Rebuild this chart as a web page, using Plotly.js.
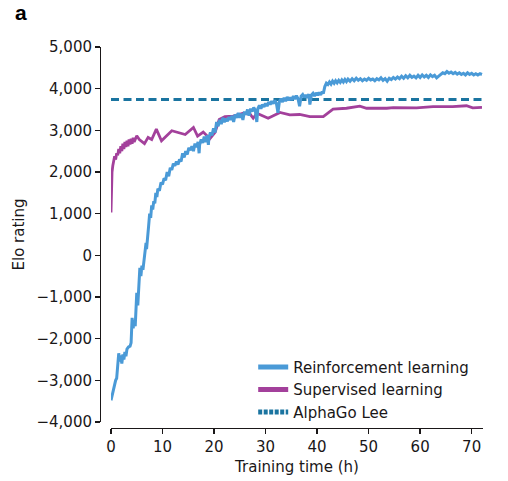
<!DOCTYPE html>
<html>
<head>
<meta charset="utf-8">
<script src="https://cdn.plot.ly/plotly-3.0.1.min.js"></script>
<style>html,body{margin:0;padding:0;background:#fff;}#chart{width:508px;height:481px;}</style>
</head>
<body>
<div id="chart"></div>
<script>
// Reinforcement learning (hours, Elo)
const rlHours = [0,0.3,0.6,0.9,1.1,1.3,1.5,1.7,1.9,2.1,2.3,2.5,2.7,2.9,3.1,3.4,3.7,3.9,4.0,4.1,4.3,4.5,4.7,4.9,5.0,5.2,5.3,5.5,5.6,5.8,6.0,6.2,6.4,6.6,6.8,6.9,7.1,7.3,7.5,7.7,7.9,8.1,8.3,8.5,8.7,8.9,9.1,9.4,9.7,10.0,10.3,10.6,10.9,11.2,11.5,11.8,12.1,12.4,12.7,13.0,13.3,13.6,13.9,14.2,14.5,14.8,15.1,15.4,15.7,16.0,16.3,16.6,16.9,17.1,17.2,17.5,17.8,18.1,18.4,18.7,18.9,19.0,19.3,19.6,19.9,20.2,20.5,20.8,21.1,21.4,21.7,22.0,22.3,22.6,22.9,23.2,23.5,23.8,24.1,24.4,24.7,25.0,25.3,25.6,25.9,26.2,26.5,26.8,27.1,27.4,27.7,28.0,28.3,28.5,28.8,29.1,29.4,29.7,30.0,30.3,30.6,30.9,31.2,31.5,31.8,32.1,32.4,32.7,33.0,33.3,33.6,33.9,34.2,34.5,34.8,35.1,35.4,35.7,36.0,36.3,36.6,36.9,37.2,37.5,37.8,38.1,38.4,38.6,38.9,39.2,39.5,39.8,40.1,40.4,40.7,41.0,41.2,41.5,41.8,42.1,42.4,42.7,43.0,43.3,43.6,43.9,44.2,44.5,44.8,45.1,45.4,45.7,46.0,46.4,46.8,47.2,47.6,48.0,48.4,48.8,49.2,49.6,50.0,50.4,50.8,51.2,51.6,52.0,52.4,52.8,53.2,53.6,54.0,54.4,54.8,55.2,55.6,56.0,56.4,56.8,57.2,57.6,58.0,58.4,58.8,59.2,59.6,60.0,60.4,60.8,61.2,61.6,62.0,62.4,62.8,63.2,63.6,64.0,64.4,64.8,65.2,65.6,66.0,66.4,66.8,67.2,67.6,68.0,68.4,68.8,69.2,69.6,70.0,70.4,70.8,71.2,71.6,72.0];
const rlElo = [-3480,-3300,-3150,-3000,-2950,-2700,-2350,-2550,-2400,-2600,-2380,-2500,-2320,-2420,-2250,-2200,-2180,-2100,-1800,-1500,-1750,-1550,-1700,-1300,-900,-1200,-850,-600,-300,-500,-250,-350,-150,100,300,150,550,700,1000,900,1200,1100,1300,1250,1500,1400,1600,1550,1750,1700,1850,1800,2000,1900,2100,2050,2200,2150,2250,2180,2300,2250,2450,2350,2500,2420,2580,2520,2620,2500,2680,2600,2720,2450,2650,2780,2700,2850,2720,2880,2650,2820,2950,2880,3050,2950,3200,3100,3250,3150,3300,3200,3280,3220,3320,3250,3350,3200,3380,3300,3420,3300,3400,3250,3450,3380,3500,3350,3520,3450,3550,3480,3200,3520,3600,3520,3620,3560,3650,3580,3680,3620,3700,3640,3720,3650,3420,3700,3760,3680,3780,3700,3800,3720,3790,3730,3820,3750,3830,3760,3580,3820,3860,3790,3850,3780,3870,3620,3850,3890,3820,3900,3840,3910,3850,3930,3880,4050,4130,4100,4160,4110,4180,4130,4190,4140,4200,4150,4210,4160,4220,4170,4230,4180,4240,4190,4250,4200,4240,4190,4230,4200,4250,4210,4230,4190,4240,4210,4260,4200,4240,4180,4250,4220,4270,4230,4280,4240,4300,4250,4310,4260,4320,4270,4300,4260,4320,4270,4330,4280,4320,4270,4330,4290,4320,4260,4300,4340,4380,4360,4410,4370,4400,4360,4390,4350,4380,4340,4370,4330,4380,4340,4370,4330,4360,4330,4360,4340];

// Supervised learning (hours, Elo)
const slHours = [0,0.1,0.2,0.35,0.5,0.7,0.9,1.1,1.3,1.5,1.7,1.9,2.1,2.3,2.5,2.7,2.9,3.1,3.3,3.5,3.7,3.9,4.1,4.3,4.5,4.7,5.0,5.5,6.0,6.5,7.2,7.9,8.8,9.8,11.8,13.0,14.4,16.0,16.8,17.9,19.2,20.2,21.0,22.1,23.7,25.7,27.0,27.6,28.3,30.5,32.8,34.7,36.6,38.6,41.2,43.1,45.7,48.3,49.6,53.5,54.8,59.3,62.5,66.3,69.0,70.2,72.0];
const slElo = [1030,1700,2000,2150,2250,2380,2300,2450,2400,2550,2450,2620,2500,2680,2550,2720,2600,2750,2620,2780,2660,2800,2680,2820,2720,2800,2870,2780,2720,2680,2830,2780,3030,2750,2990,2950,2900,3070,2860,2960,2800,2950,3260,3330,3340,3410,3390,3290,3410,3290,3430,3370,3380,3330,3330,3510,3530,3580,3530,3530,3545,3540,3570,3570,3590,3540,3550];

// AlphaGo Lee reference level
const alphaGoLeeElo = 3739;
const timeSpan = [0, 72.2];

const seriesNames = ['Reinforcement learning', 'Supervised learning', 'AlphaGo Lee'];
const yTicks = [-4000,-3000,-2000,-1000,0,1000,2000,3000,4000,5000];
const xTicks = [0,10,20,30,40,50,60,70];

const cRL = '#4a9ad7', cSL = '#a3409b', cAG = '#1a74a0';
const FONT = 'DejaVu Sans, sans-serif';
const INK = '#1a1718';

const traces = [
  {x: timeSpan, y: timeSpan.map(() => alphaGoLeeElo), mode: 'lines', showlegend: false,
   line: {color: cAG, width: 3, dash: '8px,4.5px'}, hoverinfo: 'skip'},
  {x: slHours, y: slElo, mode: 'lines', showlegend: false, line: {color: cSL, width: 2.8}},
  {x: rlHours, y: rlElo, mode: 'lines', showlegend: false, line: {color: cRL, width: 3}},
  // legend entries
  {x: [null], y: [null], mode: 'lines', name: seriesNames[0], line: {color: cRL, width: 5}},
  {x: [null], y: [null], mode: 'lines', name: seriesNames[1], line: {color: cSL, width: 5}},
  {x: [null], y: [null], mode: 'lines', name: seriesNames[2], line: {color: cAG, width: 5, dash: '4px,1.5px'}}
];

const layout = {
  width: 508, height: 481,
  margin: {l: 100, r: 25, t: 47, b: 53},
  paper_bgcolor: '#fff', plot_bgcolor: '#fff',
  font: {family: FONT, size: 15, color: INK},
  separators: '.,',
  showlegend: true,
  xaxis: {
    domain: [11/383, 1], anchor: 'free', position: 0,
    range: timeSpan, tickvals: xTicks, ticktext: xTicks.map(String),
    showgrid: false, zeroline: false, showline: true, linecolor: INK, linewidth: 1.3,
    ticks: 'outside', ticklen: 5, tickwidth: 1.3, tickcolor: INK,
    tickfont: {family: FONT, size: 15, color: INK},
    title: {text: 'Training time (h)', font: {family: FONT, size: 15, color: INK}, standoff: 6}
  },
  yaxis: {
    domain: [6/381, 1], anchor: 'free', position: 0,
    range: [-4000, 5000], tickvals: yTicks, tickformat: ',',
    showgrid: false, zeroline: false, showline: true, linecolor: INK, linewidth: 1.3,
    ticks: 'outside', ticklen: 5, tickwidth: 1.3, tickcolor: INK,
    tickfont: {family: FONT, size: 15, color: INK},
    title: {text: 'Elo rating', font: {family: FONT, size: 15, color: INK}, standoff: 7}
  },
  legend: {
    x: 0.40, y: 0.203, xanchor: 'left', yanchor: 'top',
    bgcolor: 'rgba(0,0,0,0)', font: {family: FONT, size: 15, color: INK},
    tracegroupgap: 0, itemwidth: 30
  },
  annotations: [{
    text: '<b>a</b>', xref: 'paper', yref: 'paper', x: -0.227, y: 1.09,
    xanchor: 'left', yanchor: 'middle', showarrow: false,
    font: {family: 'Liberation Sans, Arial, sans-serif', size: 21, color: '#000'}
  }]
};

Plotly.newPlot('chart', traces, layout, {displayModeBar: false, staticPlot: true});
</script>
</body>
</html>
